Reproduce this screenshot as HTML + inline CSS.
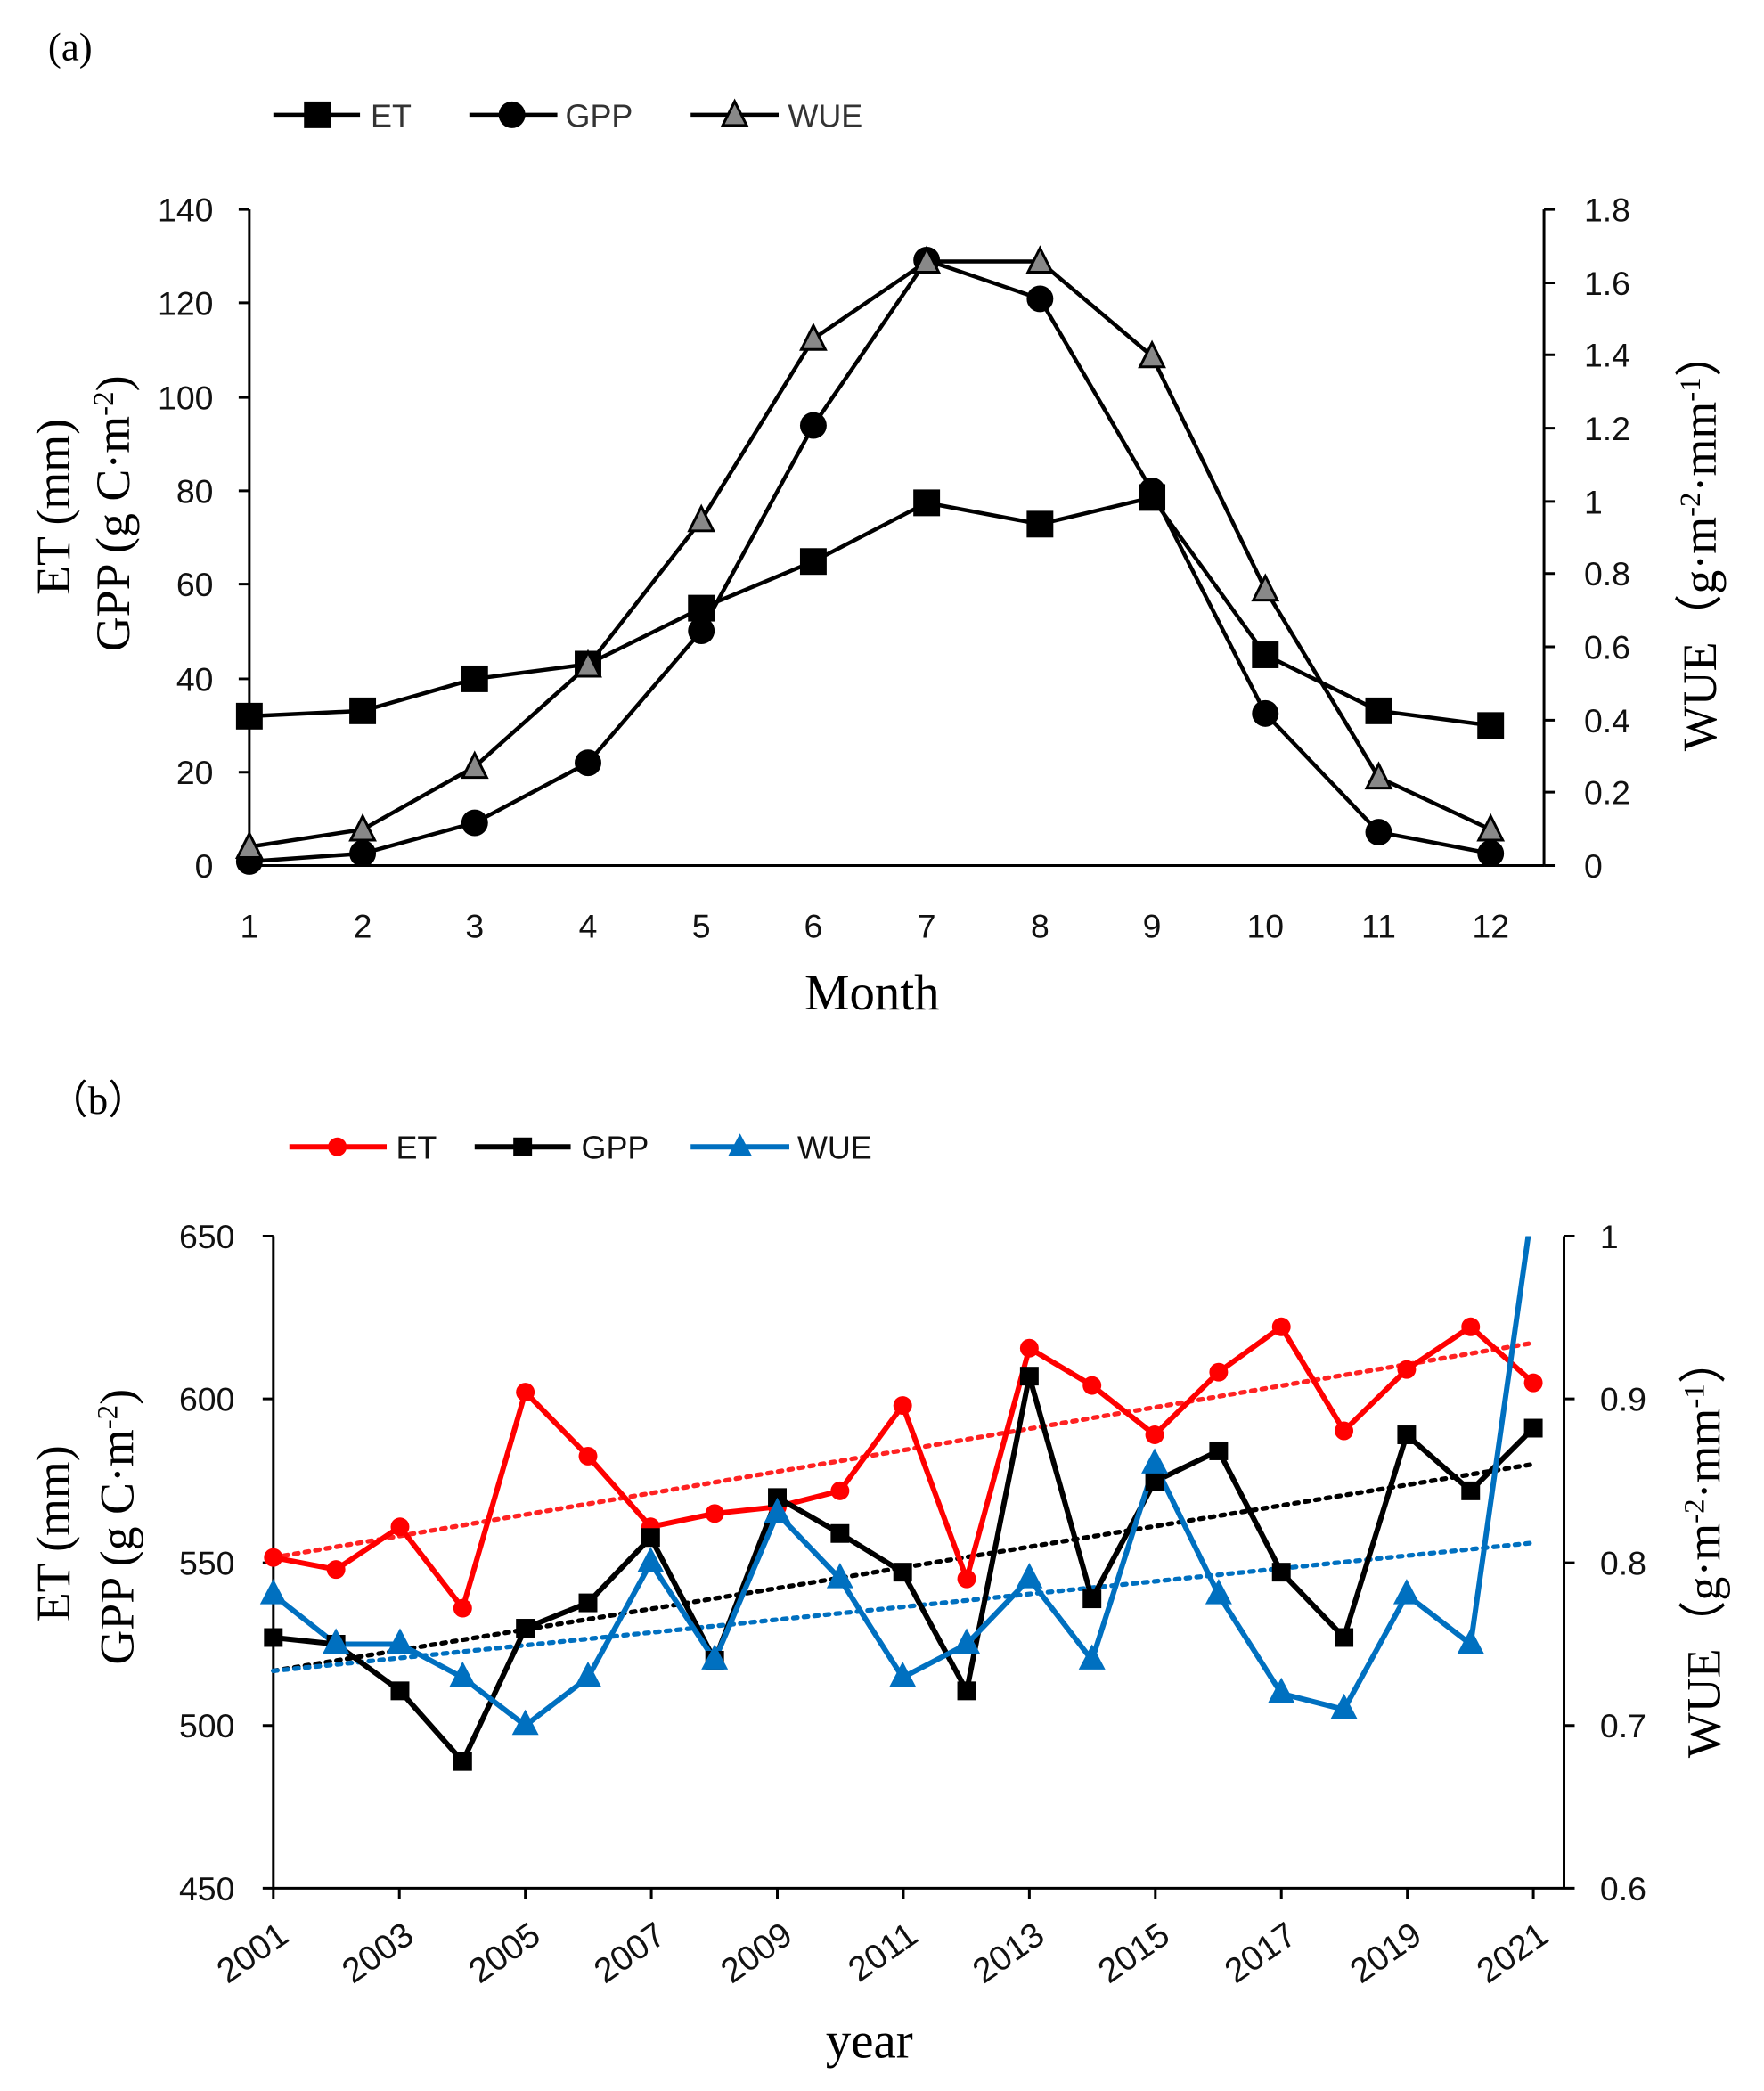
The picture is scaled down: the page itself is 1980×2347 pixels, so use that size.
<!DOCTYPE html>
<html><head><meta charset="utf-8"><style>html,body{margin:0;padding:0;background:#fff}svg{display:block}</style></head><body>
<svg width="1980" height="2347" viewBox="0 0 1323 1568" xmlns="http://www.w3.org/2000/svg">
<defs><clipPath id="cb"><rect x="205" y="927" width="968" height="490"/></clipPath></defs>
<g font-family="Liberation Serif, serif" fill="#000">
<text x="36" y="45" font-size="30">(a)</text>
<text x="36" y="835" font-size="30">（b）</text>
</g>
<g stroke="#000" stroke-width="3" font-family="Liberation Sans, sans-serif" font-size="24" fill="#333">
<line x1="205" y1="86" x2="270" y2="86"/><rect x="228" y="76" width="20" height="20" fill="#000" stroke="none"/>
<text x="278" y="95" stroke="none">ET</text>
<line x1="352" y1="86" x2="418" y2="86"/><circle cx="384" cy="86" r="10" fill="#000" stroke="none"/>
<text x="424" y="95" stroke="none">GPP</text>
<line x1="518" y1="86" x2="584" y2="86"/><polygon points="551,76 560,94 542,94" fill="#888" stroke="#000" stroke-width="2"/>
<text x="591" y="95" stroke="none">WUE</text>
</g>
<g stroke="#000" stroke-width="2" fill="none">
<line x1="187" y1="157" x2="187" y2="649"/>
<line x1="1158" y1="157" x2="1158" y2="649"/>
<line x1="187" y1="649" x2="1158" y2="649"/>
<path d="M179 157h8M179 227h8M179 298h8M179 368h8M179 438h8M179 509h8M179 579h8M179 649h8"/>
<path d="M1158 157h8M1158 212h8M1158 266h8M1158 321h8M1158 376h8M1158 430h8M1158 485h8M1158 540h8M1158 594h8M1158 649h8"/>
</g>
<g font-family="Liberation Sans, sans-serif" font-size="25" fill="#111" text-anchor="end">
<text x="160" y="166">140</text><text x="160" y="236">120</text><text x="160" y="307">100</text><text x="160" y="377">80</text><text x="160" y="447">60</text><text x="160" y="518">40</text><text x="160" y="588">20</text><text x="160" y="658">0</text>
</g>
<g font-family="Liberation Sans, sans-serif" font-size="25" fill="#111" text-anchor="start">
<text x="1188" y="166">1.8</text><text x="1188" y="221">1.6</text><text x="1188" y="275">1.4</text><text x="1188" y="330">1.2</text><text x="1188" y="385">1</text><text x="1188" y="439">0.8</text><text x="1188" y="494">0.6</text><text x="1188" y="549">0.4</text><text x="1188" y="603">0.2</text><text x="1188" y="658">0</text>
</g>
<g font-family="Liberation Sans, sans-serif" font-size="25" fill="#111" text-anchor="middle">
<text x="187" y="703">1</text><text x="272" y="703">2</text><text x="356" y="703">3</text><text x="441" y="703">4</text><text x="526" y="703">5</text><text x="610" y="703">6</text><text x="695" y="703">7</text><text x="780" y="703">8</text><text x="864" y="703">9</text><text x="949" y="703">10</text><text x="1034" y="703">11</text><text x="1118" y="703">12</text>
</g>
<text x="654" y="757" font-family="Liberation Serif, serif" font-size="38" text-anchor="middle">Month</text>
<g font-family="Liberation Serif, serif" font-size="36" text-anchor="middle">
<text transform="translate(52,380) rotate(-90)">ET (mm)</text>
<text transform="translate(97,385) rotate(-90)">GPP (g C·m<tspan font-size="22" dy="-12">-2</tspan><tspan dy="12">)</tspan></text>
<text transform="translate(1287,405) rotate(-90)">WUE（g·m<tspan font-size="22" dy="-12">-2</tspan><tspan dy="12">·mm</tspan><tspan font-size="22" dy="-12">-1</tspan><tspan dy="12">）</tspan></text>
</g>
<g stroke="#000" stroke-width="3" fill="none">
<polyline points="187,537 272,533 356,509 441,498 526,456 610,421 695,377 780,393 864,373 949,491 1034,533 1118,544"/>
<polyline points="187,646 272,640 356,617 441,572 526,473 610,319 695,195 780,224 864,368 949,535 1034,624 1118,640"/>
<polyline points="187,635 272,622 356,575 441,499 526,390 610,254 695,196 780,196 864,267 949,442 1034,583 1118,622"/>
</g>
<g fill="#000">
<rect x="177" y="527" width="20" height="20"/><rect x="262" y="523" width="20" height="20"/><rect x="346" y="499" width="20" height="20"/><rect x="431" y="488" width="20" height="20"/><rect x="516" y="446" width="20" height="20"/><rect x="600" y="411" width="20" height="20"/><rect x="685" y="367" width="20" height="20"/><rect x="770" y="383" width="20" height="20"/><rect x="854" y="363" width="20" height="20"/><rect x="939" y="481" width="20" height="20"/><rect x="1024" y="523" width="20" height="20"/><rect x="1108" y="534" width="20" height="20"/>
<circle cx="187" cy="646" r="10"/><circle cx="272" cy="640" r="10"/><circle cx="356" cy="617" r="10"/><circle cx="441" cy="572" r="10"/><circle cx="526" cy="473" r="10"/><circle cx="610" cy="319" r="10"/><circle cx="695" cy="195" r="10"/><circle cx="780" cy="224" r="10"/><circle cx="864" cy="368" r="10"/><circle cx="949" cy="535" r="10"/><circle cx="1034" cy="624" r="10"/><circle cx="1118" cy="640" r="10"/>
</g>
<g fill="#888" stroke="#000" stroke-width="2">
<polygon points="187,625 196,643 178,643"/><polygon points="272,612 281,630 263,630"/><polygon points="356,565 365,583 347,583"/><polygon points="441,489 450,507 432,507"/><polygon points="526,380 535,398 517,398"/><polygon points="610,244 619,262 601,262"/><polygon points="695,186 704,204 686,204"/><polygon points="780,186 789,204 771,204"/><polygon points="864,257 873,275 855,275"/><polygon points="949,432 958,450 940,450"/><polygon points="1034,573 1043,591 1025,591"/><polygon points="1118,612 1127,630 1109,630"/>
</g>
<g stroke-width="4" font-family="Liberation Sans, sans-serif" font-size="24" fill="#111">
<line x1="217" y1="860" x2="290" y2="860" stroke="#f00"/><circle cx="253" cy="860" r="7" fill="#f00"/>
<text x="297" y="869">ET</text>
<line x1="356" y1="860" x2="428" y2="860" stroke="#000"/><rect x="385" y="853" width="14" height="14" fill="#000"/>
<text x="436" y="869">GPP</text>
<line x1="518" y1="860" x2="592" y2="860" stroke="#0070c0"/><polygon points="555,850 564,867 546,867" fill="#0070c0"/>
<text x="598" y="869">WUE</text>
</g>
<g stroke="#000" stroke-width="2" fill="none">
<line x1="205" y1="927" x2="205" y2="1416"/>
<line x1="1173" y1="927" x2="1173" y2="1416"/>
<line x1="205" y1="1416" x2="1173" y2="1416"/>
<path d="M197 927h8M197 1049h8M197 1172h8M197 1294h8M197 1416h8"/>
<path d="M1173 927h8M1173 1049h8M1173 1172h8M1173 1294h8M1173 1416h8"/>
<path d="M205 1416v8M299.5 1416v8M394 1416v8M488.5 1416v8M583 1416v8M677.5 1416v8M772 1416v8M866.5 1416v8M961 1416v8M1055.5 1416v8M1150 1416v8"/>
</g>
<g font-family="Liberation Sans, sans-serif" font-size="25" fill="#111" text-anchor="end">
<text x="176" y="936">650</text><text x="176" y="1058">600</text><text x="176" y="1181">550</text><text x="176" y="1303">500</text><text x="176" y="1425">450</text>
</g>
<g font-family="Liberation Sans, sans-serif" font-size="25" fill="#111">
<text x="1200" y="936">1</text><text x="1200" y="1058">0.9</text><text x="1200" y="1181">0.8</text><text x="1200" y="1303">0.7</text><text x="1200" y="1425">0.6</text>
</g>
<g font-family="Liberation Sans, sans-serif" font-size="26" fill="#111" text-anchor="end">
<text transform="translate(218,1455) rotate(-35)">2001</text><text transform="translate(312,1455) rotate(-35)">2003</text><text transform="translate(407,1455) rotate(-35)">2005</text><text transform="translate(501,1455) rotate(-35)">2007</text><text transform="translate(596,1455) rotate(-35)">2009</text><text transform="translate(690,1455) rotate(-35)">2011</text><text transform="translate(785,1455) rotate(-35)">2013</text><text transform="translate(879,1455) rotate(-35)">2015</text><text transform="translate(974,1455) rotate(-35)">2017</text><text transform="translate(1068,1455) rotate(-35)">2019</text><text transform="translate(1163,1455) rotate(-35)">2021</text>
</g>
<text x="652" y="1543" font-family="Liberation Serif, serif" font-size="38" text-anchor="middle">year</text>
<g font-family="Liberation Serif, serif" font-size="36" text-anchor="middle">
<text transform="translate(52,1150) rotate(-90)">ET (mm)</text>
<text transform="translate(100,1145) rotate(-90)">GPP (g C·m<tspan font-size="22" dy="-12">-2</tspan><tspan dy="12">)</tspan></text>
<text transform="translate(1290,1160) rotate(-90)">WUE（g·m<tspan font-size="22" dy="-12">-2</tspan><tspan dy="12">·mm</tspan><tspan font-size="22" dy="-12">-1</tspan><tspan dy="12">）</tspan></text>
</g>
<g stroke-width="3.5" stroke-dasharray="3,5" stroke-linecap="round">
<line x1="205" y1="1168" x2="1150" y2="1007" stroke="#f22"/>
<line x1="205" y1="1253" x2="1150" y2="1098" stroke="#000"/>
<line x1="205" y1="1253" x2="1150" y2="1157" stroke="#0070c0"/>
</g>
<g clip-path="url(#cb)" stroke-width="4" fill="none" stroke-linejoin="round">
<polyline stroke="#f00" points="205,1168 252,1177 300,1145 347,1206 394,1044 441,1092 488,1145 536,1135 583,1130 630,1118 677,1054 725,1184 772,1011 819,1039 866,1076 914,1029 961,995 1008,1073 1055,1027 1103,995 1150,1037"/>
<polyline stroke="#000" points="205,1228 252,1233 300,1268 347,1321 394,1221 441,1202 488,1153 536,1245 583,1123 630,1150 677,1179 725,1268 772,1032 819,1199 866,1111 914,1088 961,1179 1008,1228 1055,1076 1103,1118 1150,1071"/>
<polyline stroke="#0070c0" points="205,1196 252,1233 300,1233 347,1258 394,1294 441,1258 488,1172 536,1245 583,1135 630,1184 677,1258 725,1233 772,1184 819,1245 866,1098 914,1196 961,1270 1008,1282 1055,1196 1103,1233 1150,900"/>
</g>
<g fill="#f00">
<circle cx="205" cy="1168" r="7"/><circle cx="252" cy="1177" r="7"/><circle cx="300" cy="1145" r="7"/><circle cx="347" cy="1206" r="7"/><circle cx="394" cy="1044" r="7"/><circle cx="441" cy="1092" r="7"/><circle cx="488" cy="1145" r="7"/><circle cx="536" cy="1135" r="7"/><circle cx="583" cy="1130" r="7"/><circle cx="630" cy="1118" r="7"/><circle cx="677" cy="1054" r="7"/><circle cx="725" cy="1184" r="7"/><circle cx="772" cy="1011" r="7"/><circle cx="819" cy="1039" r="7"/><circle cx="866" cy="1076" r="7"/><circle cx="914" cy="1029" r="7"/><circle cx="961" cy="995" r="7"/><circle cx="1008" cy="1073" r="7"/><circle cx="1055" cy="1027" r="7"/><circle cx="1103" cy="995" r="7"/><circle cx="1150" cy="1037" r="7"/>
</g>
<g fill="#000">
<rect x="198" y="1221" width="14" height="14"/><rect x="245" y="1226" width="14" height="14"/><rect x="293" y="1261" width="14" height="14"/><rect x="340" y="1314" width="14" height="14"/><rect x="387" y="1214" width="14" height="14"/><rect x="434" y="1195" width="14" height="14"/><rect x="481" y="1146" width="14" height="14"/><rect x="529" y="1238" width="14" height="14"/><rect x="576" y="1116" width="14" height="14"/><rect x="623" y="1143" width="14" height="14"/><rect x="670" y="1172" width="14" height="14"/><rect x="718" y="1261" width="14" height="14"/><rect x="765" y="1025" width="14" height="14"/><rect x="812" y="1192" width="14" height="14"/><rect x="859" y="1104" width="14" height="14"/><rect x="907" y="1081" width="14" height="14"/><rect x="954" y="1172" width="14" height="14"/><rect x="1001" y="1221" width="14" height="14"/><rect x="1048" y="1069" width="14" height="14"/><rect x="1096" y="1111" width="14" height="14"/><rect x="1143" y="1064" width="14" height="14"/>
</g>
<g fill="#0070c0">
<polygon points="205,1184 215,1203 195,1203"/><polygon points="252,1221 262,1240 242,1240"/><polygon points="300,1221 310,1240 290,1240"/><polygon points="347,1246 357,1265 337,1265"/><polygon points="394,1282 404,1301 384,1301"/><polygon points="441,1246 451,1265 431,1265"/><polygon points="488,1160 498,1179 478,1179"/><polygon points="536,1233 546,1252 526,1252"/><polygon points="583,1123 593,1142 573,1142"/><polygon points="630,1172 640,1191 620,1191"/><polygon points="677,1246 687,1265 667,1265"/><polygon points="725,1221 735,1240 715,1240"/><polygon points="772,1172 782,1191 762,1191"/><polygon points="819,1233 829,1252 809,1252"/><polygon points="866,1086 876,1105 856,1105"/><polygon points="914,1184 924,1203 904,1203"/><polygon points="961,1258 971,1277 951,1277"/><polygon points="1008,1270 1018,1289 998,1289"/><polygon points="1055,1184 1065,1203 1045,1203"/><polygon points="1103,1221 1113,1240 1093,1240"/>
</g>
</svg>
</body></html>
